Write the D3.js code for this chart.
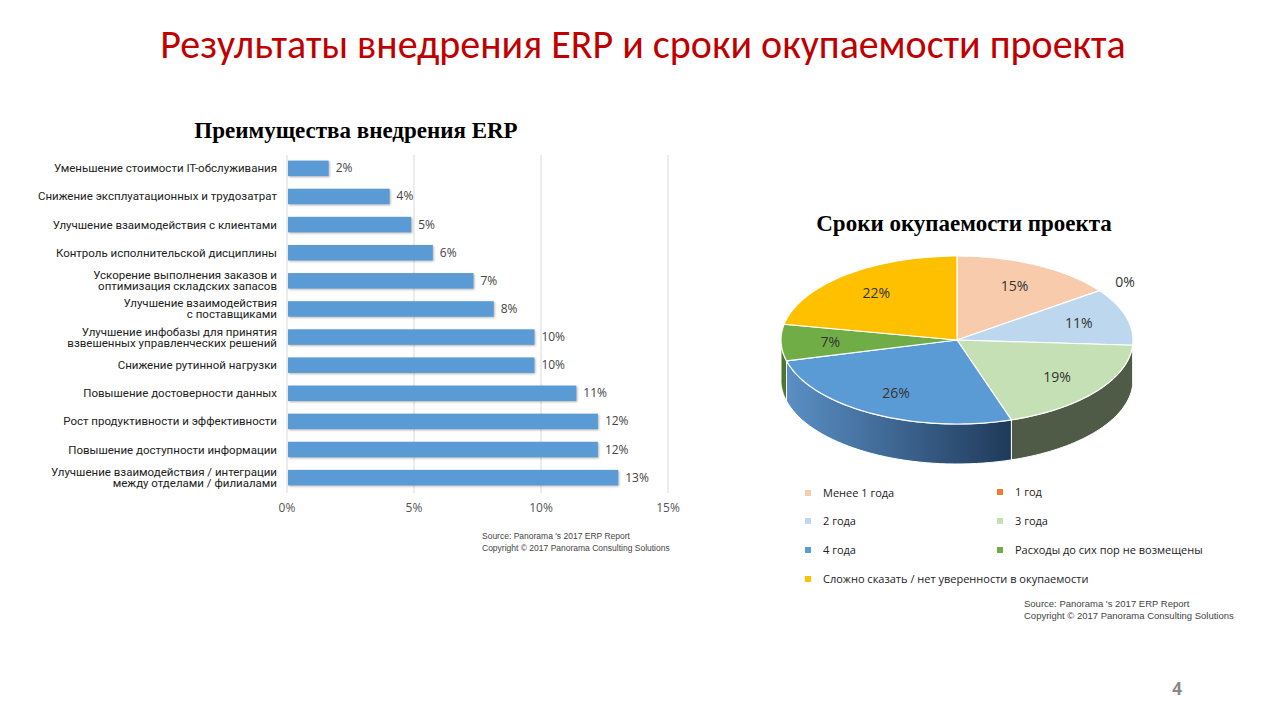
<!DOCTYPE html><html><head><meta charset="utf-8"><script src="https://cdn.jsdelivr.net/npm/d3@7"></script>
<style>body{margin:0;background:#fff}svg{font-family:"Open Sans",sans-serif}</style></head><body>
<svg id="c" width="1280" height="720"></svg>
<script>
const barCategories=[["Уменьшение стоимости IT-обслуживания"],["Снижение эксплуатационных и трудозатрат"],["Улучшение взаимодействия с клиентами"],["Контроль исполнительской дисциплины"],["Ускорение выполнения заказов и","оптимизация складских запасов"],["Улучшение взаимодействия","с поставщиками"],["Улучшение инфобазы для принятия","взвешенных управленческих решений"],["Снижение рутинной нагрузки"],["Повышение достоверности данных"],["Рост продуктивности и эффективности"],["Повышение доступности информации"],["Улучшение взаимодействия / интеграции","между отделами / филиалами"]];
const barValues=[1.6,4.0,4.85,5.7,7.3,8.1,9.7,9.7,11.35,12.2,12.2,13.0];
const barLabels=["2%","4%","5%","6%","7%","8%","10%","10%","11%","12%","12%","13%"];
const xTicks=[0,5,10,15];
const pieNames=["Менее 1 года","1 год","2 года","3 года","4 года","Расходы до сих пор не возмещены","Сложно сказать / нет уверенности в окупаемости"];
const pieValues=[15,0,11,19,26,7,22];
const pieColors=["#f8cbad","#ed7d31","#bdd7ee","#c5e0b4","#5b9bd5","#70ad47","#ffc000"];
const pieSide=["#c9a38a","#b35e24","#8fa6bb","#4f5a47","#2e4d6d","#4b7530","#b38600"];

const svg=d3.select("#c");
svg.append("text").attr("x",643).attr("y",58).attr("text-anchor","middle").attr("fill","#c00000").attr("font-size",40).attr("font-family","Calibri, Carlito, 'Open Sans', sans-serif").text("Результаты внедрения ERP и сроки окупаемости проекта");

svg.append("text").attr("x",356).attr("y",138).attr("text-anchor","middle").attr("font-family","'Liberation Serif',serif").attr("font-weight","bold").attr("font-size",23).text("Преимущества внедрения ERP");
const x=d3.scaleLinear().domain([0,15]).range([287,668]);
const y=d3.scaleBand().domain(d3.range(12)).range([155,491]).paddingInner(0.45).paddingOuter(0.2);
const g=svg.append("g");
xTicks.forEach(t=>{ if(t>0) g.append("line").attr("x1",x(t)).attr("x2",x(t)).attr("y1",155).attr("y2",493).attr("stroke","#d9d9d9");
 g.append("text").attr("x",x(t)).attr("y",512).attr("text-anchor","middle").attr("font-size",12).attr("fill","#555").text(t+"%");});
g.append("line").attr("x1",287).attr("x2",287).attr("y1",155).attr("y2",493).attr("stroke","#d9d9d9");
barValues.forEach((v,i)=>{
 g.append("rect").attr("x",x(0)+1).attr("y",y(i)).attr("width",x(v)-x(0)).attr("height",y.bandwidth()).attr("fill","#5b9bd5").attr("filter","drop-shadow(1px 1px 1px rgba(0,0,0,0.3))");
 g.append("text").attr("x",x(v)+8).attr("y",y(i)+y.bandwidth()/2+4).attr("font-size",12).attr("fill","#444").text(barLabels[i]);
 const ls=barCategories[i];
 ls.forEach((l,j)=>g.append("text").attr("x",277).attr("y",y(i)+y.bandwidth()/2+4+(j-(ls.length-1)/2)*11).attr("text-anchor","end").attr("font-size",11.5).attr("font-family","'Liberation Sans Narrow','Roboto',sans-serif").attr("fill","#222").text(l));
});
[["Source: Panorama 's 2017 ERP Report",539],["Copyright © 2017 Panorama Consulting Solutions",551]].forEach(a=>svg.append("text").attr("x",482).attr("y",a[1]).attr("font-size",8.5).attr("font-family","'Liberation Sans Narrow',sans-serif").attr("fill","#444").text(a[0]));

svg.append("text").attr("x",964).attr("y",231).attr("text-anchor","middle").attr("font-family","'Liberation Serif',serif").attr("font-weight","bold").attr("font-size",23).text("Сроки окупаемости проекта");
const cx=957,cy=340,rx=176,ry=84,depth=40;
const pie=d3.pie().sort(null).value(d=>d)(pieValues);
const pt=(a,dy=0)=>[cx+rx*Math.sin(a),cy-ry*Math.cos(a)+dy];
const defs=svg.append("defs");
const gr=defs.append("linearGradient").attr("id","bg").attr("x1","0").attr("x2","1");
gr.append("stop").attr("offset","0").attr("stop-color","#5a8fc5");gr.append("stop").attr("offset","1").attr("stop-color","#1f3a5a");
const pg=svg.append("g");
pie.forEach((p,i)=>{
 const a0=Math.max(p.startAngle,Math.PI/2),a1=Math.min(p.endAngle,1.5*Math.PI);
 if(a1<=a0)return;
 const N=40;let top=[],bot=[];
 for(let k=0;k<=N;k++){const a=a0+(a1-a0)*k/N;top.push(pt(a));bot.push(pt(a,depth));}
 const pts=top.concat(bot.reverse());
 pg.append("path").attr("d","M"+pts.map(q=>q.join(",")).join("L")+"Z").attr("fill",i==4?"url(#bg)":pieSide[i]).attr("stroke","#fff").attr("stroke-width",1);
});
pie.forEach((p,i)=>{
 if(p.endAngle-p.startAngle<=0)return;
 const N=60;let pts=[[cx,cy]];
 for(let k=0;k<=N;k++){pts.push(pt(p.startAngle+(p.endAngle-p.startAngle)*k/N));}
 pg.append("path").attr("d","M"+pts.map(q=>q.join(",")).join("L")+"Z").attr("fill",pieColors[i]).attr("stroke","#fff").attr("stroke-width",1.2);
});
pie.forEach((p,i)=>{
 const m=(p.startAngle+p.endAngle)/2;
 const r=p.value==0?1.18:0.72;
 pg.append("text").attr("x",cx+rx*r*Math.sin(m)).attr("y",cy-ry*r*Math.cos(m)+5).attr("text-anchor","middle").attr("font-size",14).attr("fill","#333").text(p.value+"%");
});
const legPos=[[805,497],[997,496],[805,525],[997,525],[805,554],[997,554],[805,583]];
pieNames.forEach((n,i)=>{
 svg.append("rect").attr("x",legPos[i][0]).attr("y",legPos[i][1]-7).attr("width",6).attr("height",6).attr("fill",pieColors[i]);
 svg.append("text").attr("x",legPos[i][0]+18).attr("y",legPos[i][1]).attr("font-size",11).attr("fill","#222").text(n);
});
[["Source: Panorama 's 2017 ERP Report",607],["Copyright © 2017 Panorama Consulting Solutions",619]].forEach(a=>svg.append("text").attr("x",1024).attr("y",a[1]).attr("font-size",9.5).attr("font-family","'Liberation Sans Narrow',sans-serif").attr("fill","#444").text(a[0]));
svg.append("text").attr("x",1177).attr("y",695).attr("text-anchor","middle").attr("font-size",17).attr("font-weight","bold").attr("fill","#888").text("4");
</script></body></html>
